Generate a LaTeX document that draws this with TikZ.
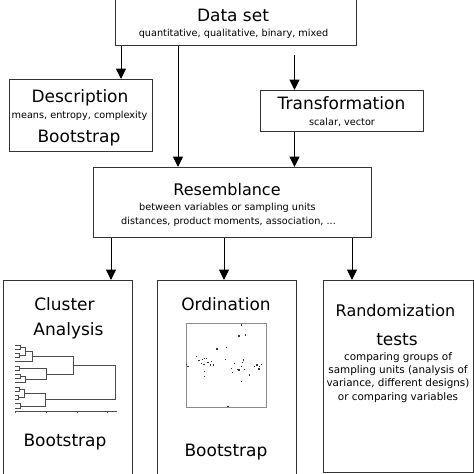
\documentclass[tikz,border=0pt]{standalone}
\usepackage{fontspec}
\setmainfont{DejaVu Sans}
\usetikzlibrary{arrows.meta}
\begin{document}
\begin{tikzpicture}[x=1pt,y=-1pt,
  box/.style={draw=black!80, line width=0.9pt, fill=white, inner sep=0pt, anchor=north west},
  big/.style={font=\fontsize{17}{20}\selectfont, inner sep=0pt, anchor=base},
  mid/.style={font=\fontsize{16}{19}\selectfont, inner sep=0pt, anchor=base},
  small/.style={font=\fontsize{9.7}{12}\selectfont, inner sep=0pt, anchor=base},
  rsmall/.style={font=\fontsize{10.4}{12}\selectfont, inner sep=0pt, anchor=base},
  arr/.style={draw=black, line width=1pt, -{Triangle[width=10pt,length=10.5pt]}},
  dend/.style={draw=black!70, line width=0.7pt},
  pt/.style={fill=black!80}
]
\useasboundingbox (0,0) rectangle (474,474);
\fill[white] (0,0) rectangle (474,474);

% boxes
\node[box, minimum width=241pt, minimum height=50pt] (data) at (115,-5) {};
\node[box, minimum width=143pt, minimum height=72pt] (desc) at (9,79) {};
\node[box, minimum width=163pt, minimum height=41pt] (trans) at (260,90) {};
\node[box, minimum width=278pt, minimum height=70pt] (res) at (93,167) {};
\node[box, minimum width=129pt, minimum height=200pt] (clus) at (3,280) {};
\node[box, minimum width=139pt, minimum height=200pt] (ord) at (157,280) {};
\node[box, minimum width=150pt, minimum height=192pt] (rand) at (323,280) {};

% texts
\node[big] (tdata) at (233,21) {Data set};
\node[small] (sdata) at (233.5,36.5) {quantitative, qualitative, binary, mixed};
\node[big] (tdesc) at (80,102.7) {Description};
\node[small] (sdesc) at (79.5,118.3) {means, entropy, complexity};
\node[big] (bdesc) at (79,142.7) {Bootstrap};
\node[big] (ttrans) at (341.5,109.3) {Transformation};
\node[small] (strans) at (342,125) {scalar, vector};
\node[mid] (tres) at (227,195) {Resemblance};
\node[small] (sres1) at (227.5,210) {between variables or sampling units};
\node[small] (sres2) at (228.5,224) {distances, product moments, association, ...};
\node[big] (tclus1) at (64.5,310) {Cluster};
\node[big] (tclus2) at (68.5,335) {Analysis};
\node[big] (bclus) at (65,446.7) {Bootstrap};
\node[big] (tord) at (226,310) {Ordination};
\node[big] (bord) at (226,456) {Bootstrap};
\node[mid] (trand1) at (395.5,316) {Randomization};
\node[big] (trand2) at (397,345) {tests};
\node[rsmall] (srand1) at (398,360) {comparing groups of};
\node[rsmall] (srand2) at (398,373.3) {sampling units (analysis of};
\node[rsmall] (srand3) at (398,386.7) {variance, different designs)};
\node[rsmall] (srand4) at (398,400) {or comparing variables};

% arrow columns
\coordinate (c1) at (121,0);
\coordinate (c2) at (178,0);
\coordinate (c3) at (294.5,0);
\coordinate (tstart) at (294.5,55);
\coordinate (c5) at (111,0);
\coordinate (c6) at (224,0);
\coordinate (c7) at (352,0);

\draw[arr] (data.south -| c1) -- (desc.north -| c1);
\draw[arr] (data.south -| c2) -- (res.north -| c2);
\draw[arr] (tstart) -- (trans.north -| c3);
\draw[arr] (trans.south -| c3) -- (res.north -| c3);
\draw[arr] (res.south -| c5) -- (clus.north -| c5);
\draw[arr] (res.south -| c6) -- (ord.north -| c6);
\draw[arr] (res.south -| c7) -- (rand.north -| c7);

% dendrogram
\foreach \xa/\ya/\xb/\yb/\xj in {
  15/345/15/349.2/20, 15/353.4/15/357.6/19, 20/347.1/19/355.5/25, 25/351.3/15/361.8/32,
  15/366/15/370.2/19, 15/374.4/15/378.6/20, 20/376.5/15/382.8/25, 19/368.1/25/379.65/46,
  32/356.55/46/373.9/73,
  15/387/15/391.2/19, 15/395.4/15/399.6/18, 19/389.1/18/397.5/24, 15/403.8/15/408/20,
  24/393.3/20/405.9/45, 73/365.2/45/399.6/115}
  \draw[dend] (\xa,\ya) -- (\xj,\ya) -- (\xj,\yb) -- (\xb,\yb);
\draw[dend] (15,411) -- (117,411);
\foreach \tx in {15,46,77,107} \draw[dend] (\tx,411) -- (\tx,413);

% ordination plot
\node[draw=black!45, line width=0.7pt, inner sep=0pt, anchor=north west, minimum width=80pt, minimum height=84pt] (plot) at (186,323) {};
\foreach \px/\py in {241.3/325, 239/336, 245.3/335, 217/349, 226.3/347.3,
  196.3/356.7, 199/360.7, 202.3/359.3, 204.7/358.3, 206.3/358.3, 201.3/363.3,
  204/364.3, 208/362.7, 211.3/361.7, 210.7/365, 213.7/365, 204.7/371.7,
  204.7/376.7, 188/366.7, 186.5/364.3, 225.7/359.3, 234.7/363.3, 242.3/362.7,
  243.7/360, 241.3/366.7, 239/370, 231.3/368.3, 232.3/372.7, 244.7/369.3,
  238/369.3, 249.7/375, 241.3/381.7, 254.7/366.7, 257/365, 259.7/366.7,
  261.3/364.3, 259/369, 228/406.5}
  \fill[pt] (\px-0.7,\py-0.7) rectangle ++(1.4,1.4);
\end{tikzpicture}
\end{document}
